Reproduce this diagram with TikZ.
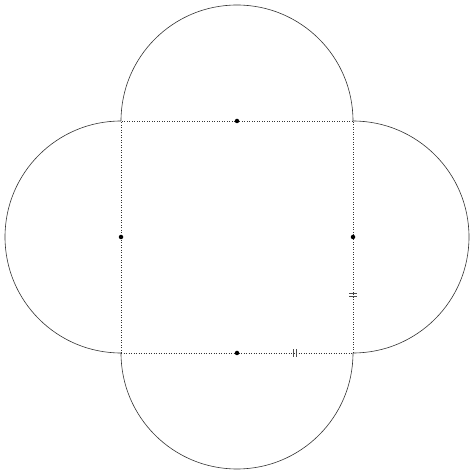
\documentclass[tikz,border=0pt]{standalone}
\begin{document}
\begin{tikzpicture}[x=1pt,y=1pt,
  arcline/.style={draw=black!80,line width=0.6pt},
  foldline/.style={draw=black!80,line width=0.5pt,dotted},
  dotmark/.style={circle,fill=black,inner sep=0pt,minimum size=4.5pt},
  tick/.style={draw=black!70,line width=0.5pt}]
\useasboundingbox (0,0) rectangle (474,476);
\coordinate (A) at (121,123);
\coordinate (B) at (353,123);
\coordinate (C) at (353,355);
\coordinate (D) at (121,355);
\draw[foldline] (A) -- (B) -- (C) -- (D) -- cycle;
\draw[arcline] (D) arc[start angle=180,end angle=0,radius=116];
\draw[arcline] (D) arc[start angle=90,end angle=270,radius=116];
\draw[arcline] (B) arc[start angle=-90,end angle=90,radius=116];
\draw[arcline] (A) arc[start angle=180,end angle=360,radius=116];
\node[dotmark] (mt) at (237,355) {};
\node[dotmark] (mb) at (237,123) {};
\node[dotmark] (ml) at (121,239) {};
\node[dotmark] (mr) at (353,239) {};
\draw[tick] (349,180) -- (357,180) (349,182.5) -- (357,182.5);
\draw[tick] (293.5,119) -- (293.5,127) (296,119) -- (296,127);
\end{tikzpicture}
\end{document}
